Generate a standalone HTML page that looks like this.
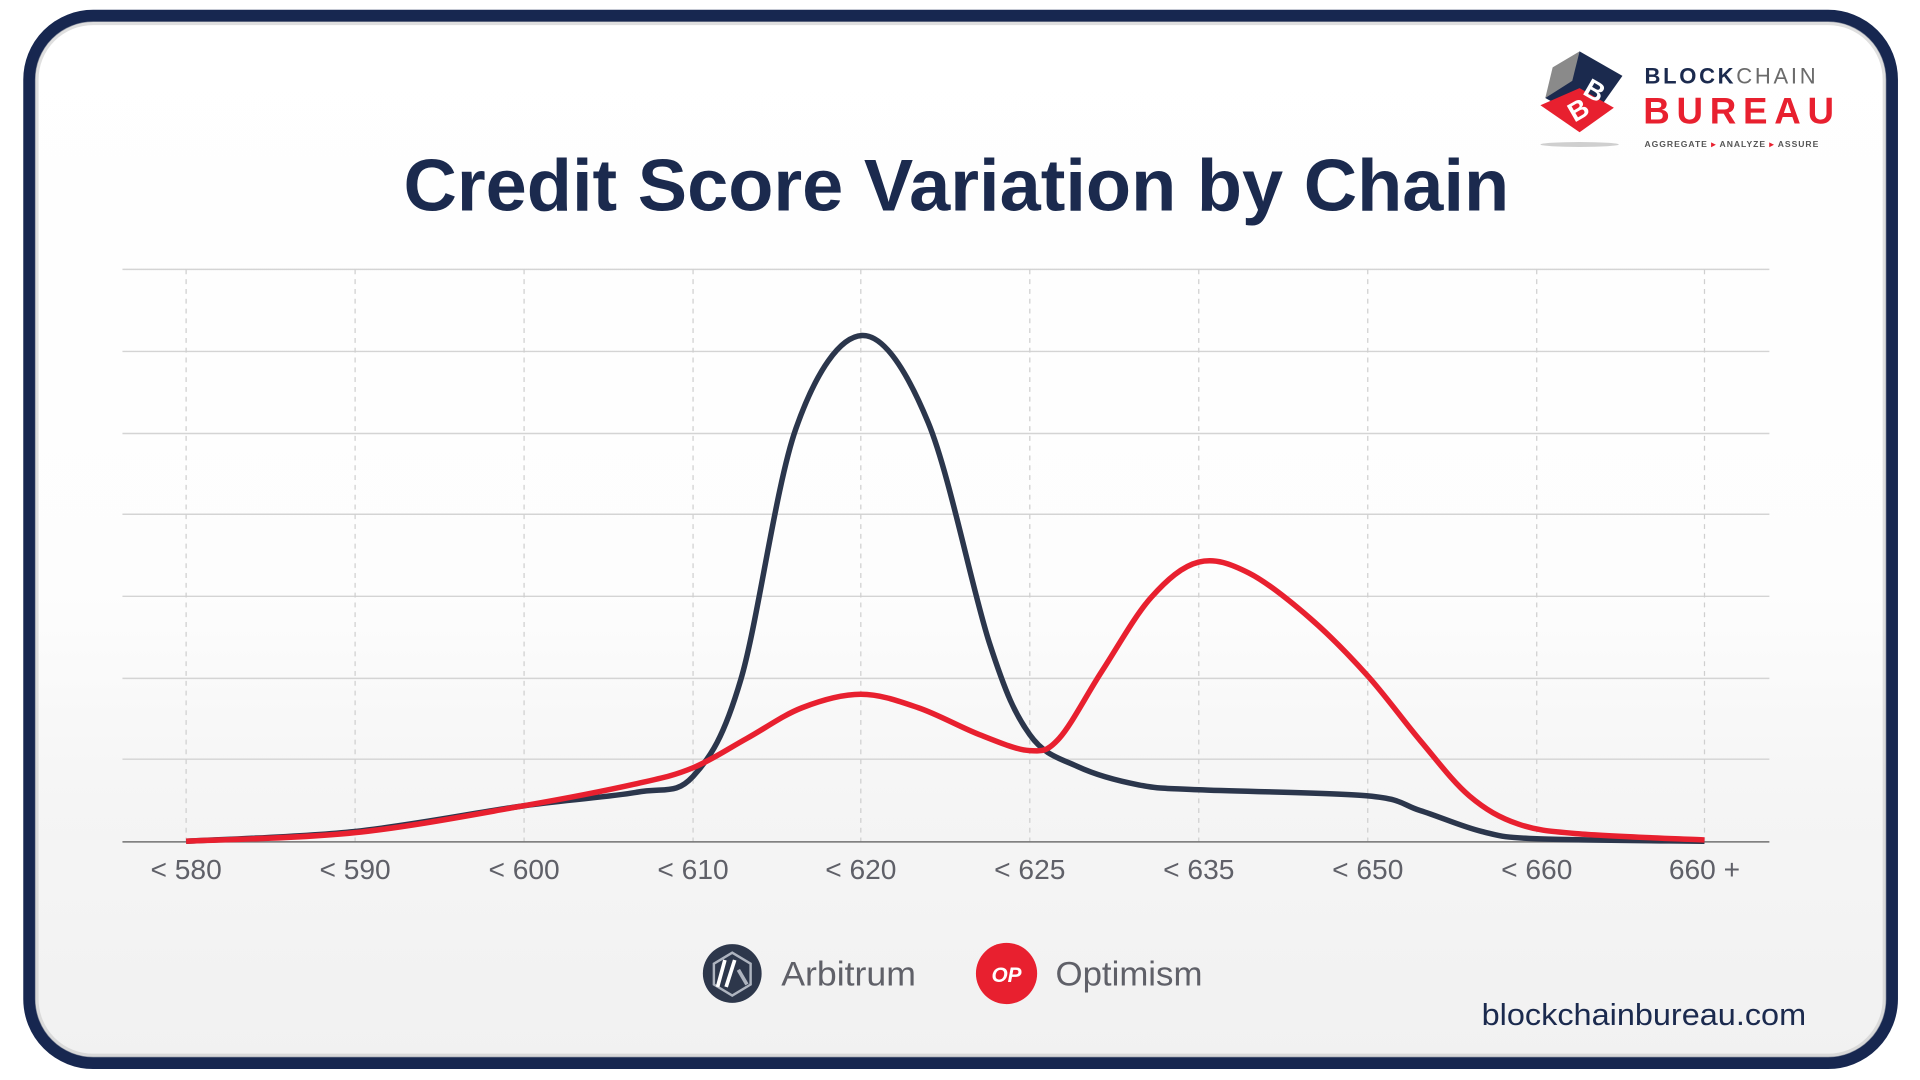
<!DOCTYPE html>
<html><head><meta charset="utf-8"><style>
html,body{margin:0;padding:0;background:#fff;width:1920px;height:1080px;overflow:hidden}
svg{display:block}
text{font-family:"Liberation Sans",sans-serif}
</style></head><body>
<svg width="1920" height="1080" viewBox="0 0 1568 882" preserveAspectRatio="none">
<defs>
<linearGradient id="bg" x1="0" y1="0" x2="0" y2="1">
<stop offset="0" stop-color="#ffffff"/><stop offset="0.55" stop-color="#fdfdfd"/><stop offset="0.75" stop-color="#f5f5f5"/><stop offset="1" stop-color="#f1f1f1"/>
</linearGradient>
</defs>
<rect x="0" y="0" width="1568" height="882" fill="#fff"/>
<rect x="24" y="13" width="1521" height="855" rx="52" fill="url(#bg)" stroke="#172750" stroke-width="10"/>
<rect x="30" y="19" width="1509" height="843" rx="46" fill="none" stroke="#c9c9c9" stroke-width="3" opacity="0.6"/>
<text x="781" y="172" text-anchor="middle" font-size="60" font-weight="bold" fill="#1b2a4e" textLength="903" lengthAdjust="spacingAndGlyphs">Credit Score Variation by Chain</text>
<!-- logo -->
<g>
<polygon points="1262,80 1290,42 1325,62 1298,100" fill="#1b2a4e"/>
<polygon points="1262,80 1268,55 1290,42 1284,66" fill="#8a8a8a"/>
<polygon points="1258,86 1290,72 1318,88 1290,108" fill="#e8202f"/>
<text x="1282" y="98" font-size="22" font-weight="bold" fill="#fff" transform="rotate(-30 1288 92)">B</text>
<text x="1295" y="80" font-size="22" font-weight="bold" fill="#fff" transform="rotate(30 1300 72)">B</text>
<ellipse cx="1290" cy="118" rx="32" ry="2" fill="#cfcfcf"/>
<text x="1343" y="68" font-size="18" font-weight="bold" fill="#1b2a4e" letter-spacing="2.2">BLOCK<tspan fill="#6b6b6b" font-weight="normal">CHAIN</tspan></text>
<text x="1342" y="101" font-size="30" font-weight="bold" fill="#e8202f" letter-spacing="5.5">BUREAU</text>
<text x="1343" y="120" font-size="7" font-weight="bold" fill="#555" letter-spacing="0.8">AGGREGATE <tspan fill="#e8202f">▸</tspan> ANALYZE <tspan fill="#e8202f">▸</tspan> ASSURE</text>
</g>
<!-- grid -->
<g stroke="#d4d4d4" stroke-width="1.2">
<line x1="100" y1="220" x2="1445" y2="220"/><line x1="100" y1="287" x2="1445" y2="287"/>
<line x1="100" y1="354" x2="1445" y2="354"/><line x1="100" y1="420" x2="1445" y2="420"/>
<line x1="100" y1="487" x2="1445" y2="487"/><line x1="100" y1="554" x2="1445" y2="554"/>
<line x1="100" y1="620" x2="1445" y2="620"/>
</g>
<g stroke="#cfcfcf" stroke-width="1" stroke-dasharray="4,4">
<line x1="152" y1="220" x2="152" y2="687"/><line x1="290" y1="220" x2="290" y2="687"/>
<line x1="428" y1="220" x2="428" y2="687"/><line x1="566" y1="220" x2="566" y2="687"/>
<line x1="703" y1="220" x2="703" y2="687"/><line x1="841" y1="220" x2="841" y2="687"/>
<line x1="979" y1="220" x2="979" y2="687"/><line x1="1117" y1="220" x2="1117" y2="687"/>
<line x1="1255" y1="220" x2="1255" y2="687"/><line x1="1392" y1="220" x2="1392" y2="687"/>
</g>
<line x1="100" y1="687.5" x2="1445" y2="687.5" stroke="#707070" stroke-width="1.2"/>
<g font-size="23" fill="#5f6068" text-anchor="middle">
<text x="152" y="718">&lt; 580</text><text x="290" y="718">&lt; 590</text><text x="428" y="718">&lt; 600</text>
<text x="566" y="718">&lt; 610</text><text x="703" y="718">&lt; 620</text><text x="841" y="718">&lt; 625</text>
<text x="979" y="718">&lt; 635</text><text x="1117" y="718">&lt; 650</text><text x="1255" y="718">&lt; 660</text>
<text x="1392" y="718">660 +</text>
</g>
<path id="arb" fill="none" stroke="#2b364c" stroke-width="4.5" stroke-linejoin="round"/>
<path id="op" fill="none" stroke="#e8202f" stroke-width="4.5" stroke-linejoin="round"/>
<!-- legend -->
<circle cx="598" cy="795" r="24" fill="#2d374b"/>
<polygon points="598,778 613,787 613,804 598,813 583,804 583,787" fill="none" stroke="#aeb4bf" stroke-width="2"/>
<line x1="592" y1="784" x2="586" y2="806" stroke="#fff" stroke-width="3"/>
<line x1="600" y1="784" x2="593" y2="806" stroke="#fff" stroke-width="3"/>
<line x1="603" y1="792" x2="610" y2="804" stroke="#aeb4bf" stroke-width="3"/>
<text x="638" y="805" font-size="28" fill="#5f6068" textLength="110" lengthAdjust="spacingAndGlyphs">Arbitrum</text>
<circle cx="822" cy="795" r="25" fill="#e8202f"/>
<text x="822" y="802" font-size="17" font-weight="bold" font-style="italic" fill="#fff" text-anchor="middle">OP</text>
<text x="862" y="805" font-size="28" fill="#5f6068" textLength="120" lengthAdjust="spacingAndGlyphs">Optimism</text>
<text x="1475" y="837" font-size="25" fill="#1b2a4e" text-anchor="end" textLength="265" lengthAdjust="spacingAndGlyphs">blockchainbureau.com</text>
</svg>
<script>
function cr(p){var d="M"+p[0][0]+","+p[0][1];for(var i=0;i<p.length-1;i++){var a=p[i-1]||p[i],b=p[i],c=p[i+1],e=p[i+2]||c;var t=6;d+=" C"+(b[0]+(c[0]-a[0])/t)+","+(b[1]+(c[1]-a[1])/t)+" "+(c[0]-(e[0]-b[0])/t)+","+(c[1]-(e[1]-b[1])/t)+" "+c[0]+","+c[1];}return d;}
document.getElementById("arb").setAttribute("d",cr([[152,687],[290,679],[428,658],[520,647],[566,634],[605,555],[650,350],[704,274],[758,345],[808,525],[841,600],[880,626],[930,641],[979,645],[1117,650],[1160,662],[1210,679],[1255,685],[1392,687]]));
document.getElementById("op").setAttribute("d",cr([[152,687],[290,680],[428,658],[520,640],[566,627],[610,603],[655,578],[703,567],[750,578],[800,600],[841,613],[865,603],[900,548],[940,488],[979,459],[1020,468],[1070,505],[1117,552],[1160,605],[1200,650],[1240,673],[1290,681],[1392,686]]));
</script>
</body></html>
